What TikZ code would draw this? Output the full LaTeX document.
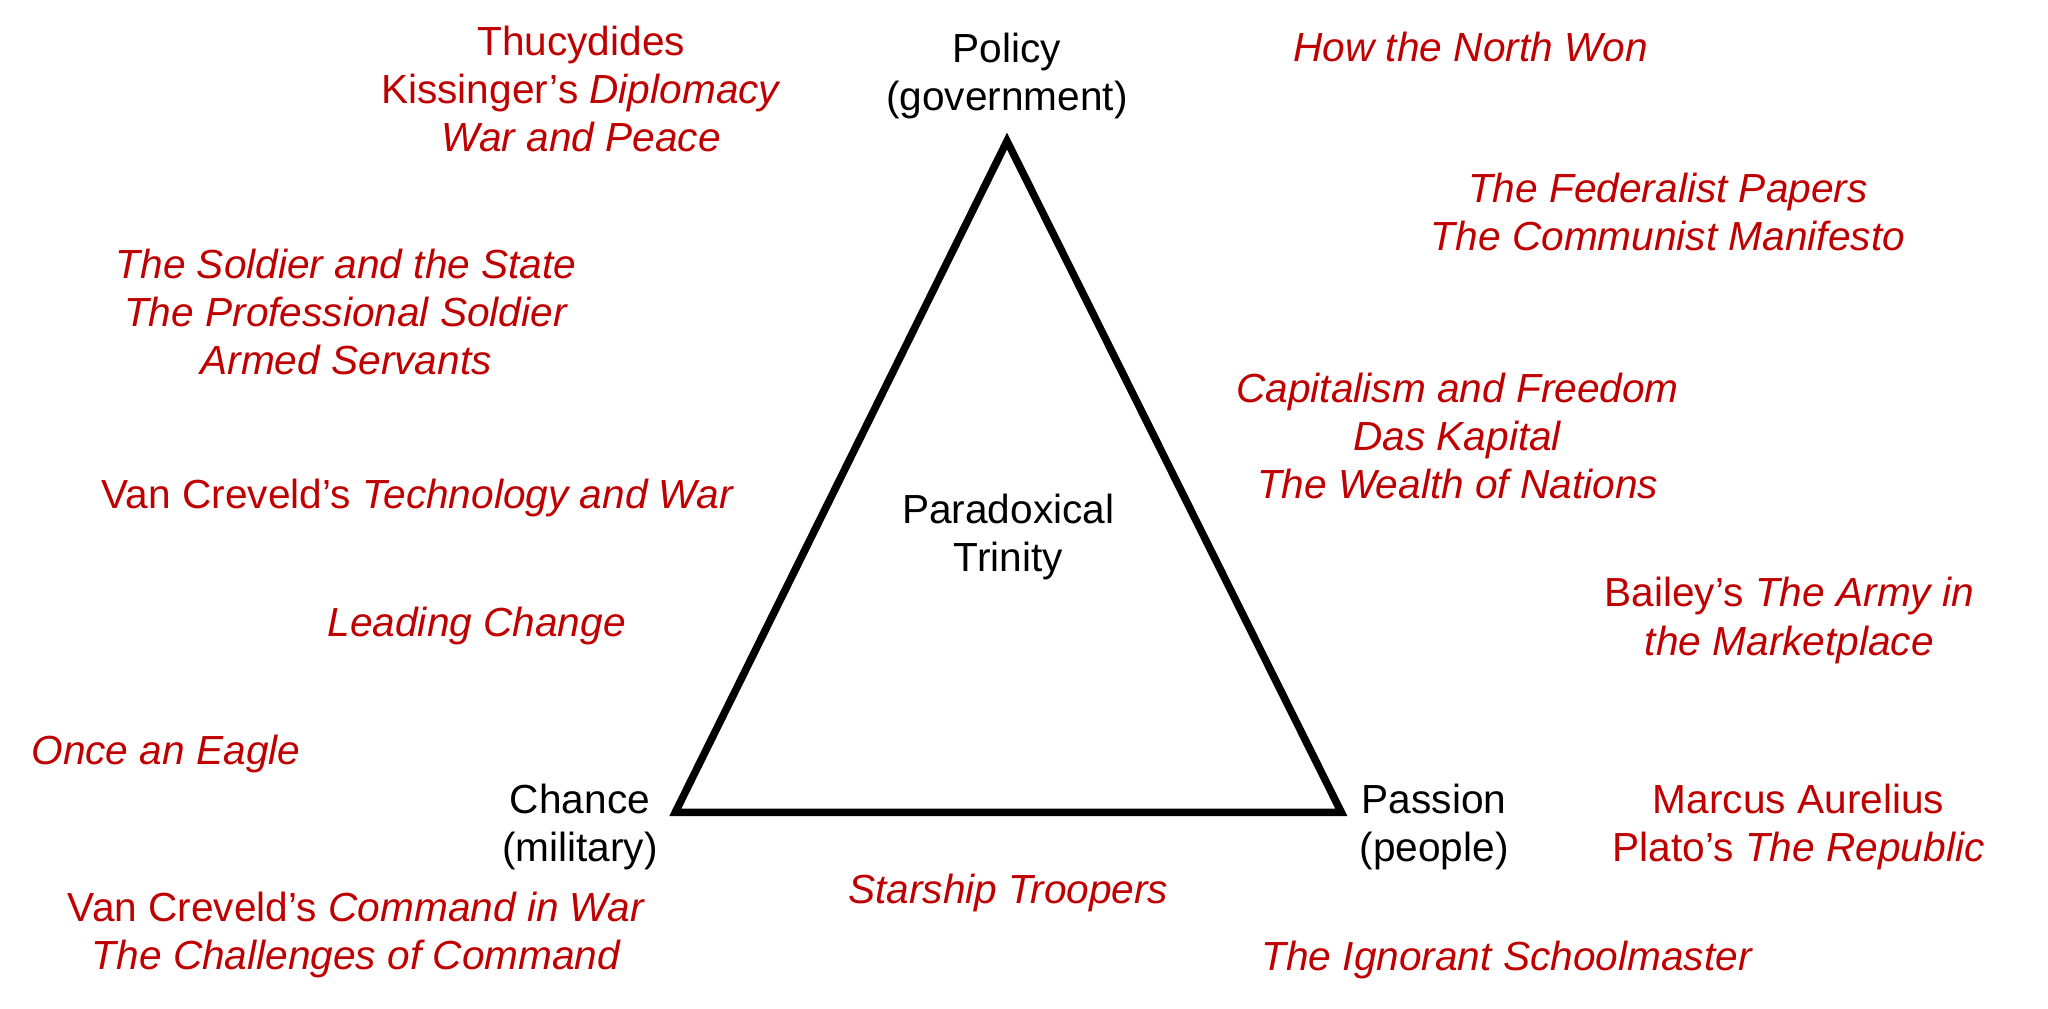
\documentclass[tikz,border=0pt]{standalone}
\usepackage{fontspec}
\setmainfont{Liberation Sans}
\definecolor{bookred}{RGB}{192,0,0}
\begin{document}
\begin{tikzpicture}[x=0.013061cm,y=-0.013061cm,
  lbl/.style={inner sep=0pt,align=center,font=\fontsize{11.56}{13.71}\selectfont,text=black},
  book/.style={lbl,text=bookred},
  tri/.style={line width=2.15pt,line join=miter}]
\useasboundingbox (0,0) rectangle (1568,772.5);
\fill[white] (0,0) rectangle (1568,772.5);
\coordinate (top) at (771,108);
\coordinate (bl) at (517,622);
\coordinate (br) at (1027,622);
\draw[tri] (top) -- (br) -- (bl) -- cycle;
\node[lbl] (policy) at (771,58) {Policy\\(government)};
\node[lbl] (chance) at (444,633) {Chance\\(military)};
\node[lbl] (passion) at (1098,633) {Passion\\(people)};
\node[lbl] (trinity) at (772,411) {Paradoxical\\Trinity};
\node[book] (b1) at (445,68) {Thucydides\\Kissinger's \textit{Diplomacy}\\\textit{War and Peace}};
\node[book] (b2) at (1126,36) {\textit{How the North Won}};
\node[book] (b3) at (1277,162) {\textit{The Federalist Papers}\\\textit{The Communist Manifesto}};
\node[book] (b4) at (265,239) {\textit{The Soldier and the State}\\\textit{The Professional Soldier}\\\textit{Armed Servants}};
\node[book] (b5) at (1116,334) {\textit{Capitalism and Freedom}\\\textit{Das Kapital}\\\textit{The Wealth of Nations}};
\node[book] (b6) at (320,381) {Van Creveld's \textit{Technology and War}};
\node[book] (b7) at (365,479) {\textit{Leading Change}};
\node[book] (b8) at (1370,475) {Bailey's \textit{The Army in}\\\textit{the Marketplace}};
\node[book] (b9) at (127,577) {\textit{Once an Eagle}};
\node[book] (b10) at (1377,633) {Marcus Aurelius\\Plato's \textit{The Republic}};
\node[book] (b11) at (772,684) {\textit{Starship Troopers}};
\node[book] (b12) at (273,716) {Van Creveld's \textit{Command in War}\\\textit{The Challenges of Command}};
\node[book] (b13) at (1154,735) {\textit{The Ignorant Schoolmaster}};
\end{tikzpicture}
\end{document}
